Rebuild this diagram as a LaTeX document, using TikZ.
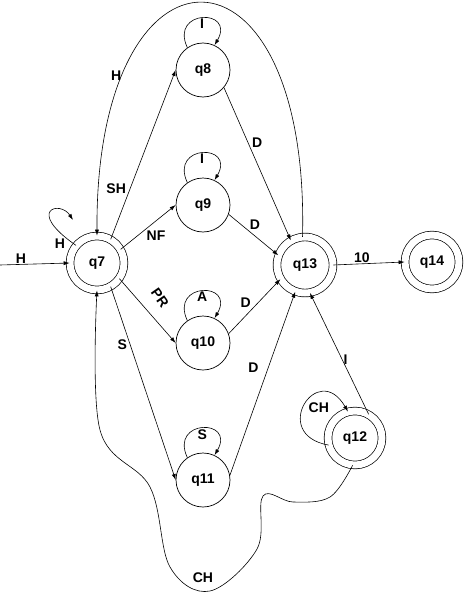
\documentclass[tikz,border=0pt]{standalone}
\usepackage{fontspec}
\setmainfont{Liberation Sans}
\usetikzlibrary{arrows.meta}
\begin{document}
\begin{tikzpicture}[x=1pt,y=-1pt,
  every node/.style={font=\fontsize{14}{16}\selectfont\bfseries},
  st/.style={draw,circle,minimum size=54pt,inner sep=0pt,line width=0.7pt},
  acc/.style={draw,circle,minimum size=54pt,inner sep=0pt,double distance=7pt,line width=0.7pt},
  ed/.style={-{Latex[length=6pt,width=4pt]},line width=0.6pt},
  lbl/.style={inner sep=1pt}]
\useasboundingbox (0,0) rectangle (474,594);
\node[acc] (q7) at (97,263) {q7};
\node[st] (q8) at (203,70) {q8};
\node[st] (q9) at (203,205) {q9};
\node[st] (q10) at (203,343) {q10};
\node[st] (q11) at (203,480) {q11};
\node[acc,minimum size=56pt] (q13) at (305,265) {q13};
\node[acc] (q14) at (432,262) {q14};
\node[acc] (q12) at (355,438) {q12};
\coordinate (in) at (0,265);
\draw[ed] (in) -- node[lbl,above,pos=0.3]{H} (q7.west);
\draw[ed] (q7.140) .. controls (25,210) and (60,200) .. (73,220);
\node[lbl] (hl) at (60,244) {H};
\draw[ed] (q7.60) -- node[lbl,left,pos=0.3,xshift=-3pt]{SH} (q8.west);
\draw[ed] (q7.30) -- node[lbl,below right,pos=0.45]{NF} (q9.west);
\draw[ed] (q7.-35) -- (q10.west);
\node[lbl,rotate=-55] (prl) at (160,298) {PR};
\draw[ed] (q7.-60) -- node[lbl,left,pos=0.3,xshift=-2pt]{S} (q11.west);
\draw[ed] (q8.-40) -- node[lbl,above right,pos=0.4]{D} (q13.120);
\draw[ed] (q9.-20) -- node[lbl,above right,pos=0.4]{D} (q13.160);
\draw[ed] (q10.20) -- node[lbl,above left,pos=0.45]{D} (q13.-150);
\draw[ed] (q11.10) -- node[lbl,above left,pos=0.55,xshift=-6pt]{D} (q13.-110);
\draw[ed] (q13.east) -- node[lbl,above,pos=0.4]{10} (q14.west);
\draw[ed] (q12.60) -- node[lbl,right,pos=0.45]{I} (q13.-80);
\draw[ed] (q13.95) .. controls (310,-75) and (95,-75) .. node[lbl,left,pos=0.78]{H} (q7.90);
\draw[ed] (q8.125) to[out=115,in=60,looseness=4] node[lbl,below]{I} (q8.65);
\draw[ed] (q9.125) to[out=115,in=60,looseness=4] node[lbl,below]{I} (q9.65);
\draw[ed] (q10.125) to[out=115,in=60,looseness=4] node[lbl,below]{A} (q10.65);
\draw[ed] (q11.125) to[out=115,in=60,looseness=4] node[lbl,below]{S} (q11.65);
\draw[ed] (q12.195) to[out=170,in=120,looseness=4] node[lbl,below right,pos=0.55]{CH} (q12.105);
\draw[ed] plot[smooth,tension=0.6] coordinates {(q12.-95) (330,497) (293,502) (263,496) (257,549) (210,591) (170,567) (150,487) (100,430) (q7.-90)};
\node[lbl] (chl) at (203,578) {CH};
\end{tikzpicture}
\end{document}
